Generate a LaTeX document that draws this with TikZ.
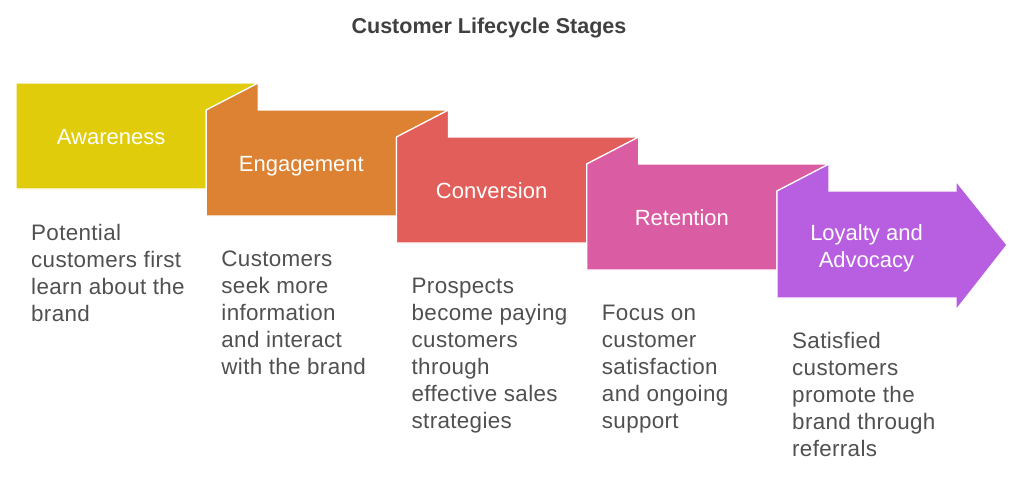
\documentclass[tikz,border=0pt]{standalone}
\usepackage{fontspec}
\setmainfont{Liberation Sans}
\newfontfamily\descfont{Liberation Sans}[LetterSpace=1.5]
\usetikzlibrary{positioning}
\definecolor{stageA}{RGB}{224,204,10}
\definecolor{stageB}{RGB}{220,130,50}
\definecolor{stageC}{RGB}{226,94,90}
\definecolor{stageD}{RGB}{218,92,162}
\definecolor{stageE}{RGB}{184,94,224}
\definecolor{inkgray}{RGB}{80,80,80}
\definecolor{titlegray}{RGB}{64,64,64}

\begin{document}
\begin{tikzpicture}[
  x=1pt, y=-1pt,
  stagebox/.style={draw=white, line width=1.2pt, line join=miter},
  stagelbl/.style={font=\fontsize{22}{27}\selectfont, text=white, align=center, anchor=base},
  desc/.style={
    font=\descfont\fontsize{22.4}{27}\selectfont, text=inkgray,
    align=left, anchor=north west, inner sep=0pt
  }
]
\useasboundingbox (0,0) rectangle (1024,477);
\def\w{190.25} % width of a stage below the next one's tab
\def\h{106}    % height of a stage
\def\tab{52}   % width of the folded tab

% --- Title ---
\node[font=\bfseries\fontsize{21.5}{26}\selectfont, text=titlegray] (title) at (489,28) {Customer Lifecycle Stages};

% --- Stages ---
\foreach \c/\lbl [count=\i] in {stageA/Awareness,stageB/Engagement,stageC/Conversion,stageD/Retention,stageE/{Loyalty and\\Advocacy}} {
  \pgfmathsetmacro\sx{16+(\i-1)*\w}
  \pgfmathsetmacro\sy{83+(\i-1)*27}
  \ifnum\i=1
    \filldraw[stagebox, fill=\c] (\sx,\sy) -- (\sx+\w+\tab,\sy) -- (\sx+\w,\sy+27)
      -- (\sx+\w,\sy+\h) -- (\sx,\sy+\h) -- cycle;
    \node[stagelbl] (s\i) at (\sx+\w/2,\sy+61) {\lbl};
  \else\ifnum\i=5
    % last stage ends in an arrow head
    \filldraw[stagebox, fill=\c] (\sx,\sy) -- (\sx+\tab,\sy-27) -- (\sx+\tab,\sy)
      -- (\sx+179,\sy) -- (\sx+179,\sy-10) -- (\sx+230,\sy+54) -- (\sx+179,\sy+119)
      -- (\sx+179,\sy+107) -- (\sx,\sy+107) -- cycle;
    \node[stagelbl] (s\i) at (\sx+89.5,\sy+76) {\lbl};
  \else
    \filldraw[stagebox, fill=\c] (\sx,\sy) -- (\sx+\tab,\sy-27) -- (\sx+\tab,\sy)
      -- (\sx+\w+\tab,\sy) -- (\sx+\w,\sy+27)
      -- (\sx+\w,\sy+\h) -- (\sx,\sy+\h) -- cycle;
    \node[stagelbl] (s\i) at (\sx+\w/2,\sy+61) {\lbl};
  \fi\fi
}

% --- Descriptions ---
\foreach \txt [count=\i] in {
  {Potential\\customers first\\learn about the\\brand},
  {Customers\\seek more\\information\\and interact\\with the brand},
  {Prospects\\become paying\\customers\\through\\effective sales\\strategies},
  {Focus on\\customer\\satisfaction\\and ongoing\\support},
  {Satisfied\\customers\\promote the\\brand through\\referrals}} {
  \pgfmathsetmacro\sx{31+(\i-1)*\w}
  \pgfmathsetmacro\sy{224+(\i-1)*27}
  \node[desc] (d\i) at (\sx,\sy) {\txt};
}

\end{tikzpicture}
\end{document}
